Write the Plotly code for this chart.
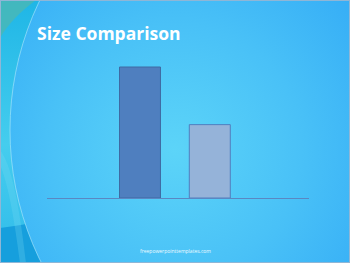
import base64
import plotly.graph_objects as go

categories = ["Item A", "Item B"]
values = [100, 56]
bar_colors = ["#4f7fbf", "#95b3d9"]
border_colors = ["#3f6aa3", "#4f7fbf"]
title_text = "Size Comparison"
footer_text = "freepowerpointtemplates.com"

W, H = 350, 263
ML, MR, MT, MB = 47, 41, 50, 65
PW, PH = W - ML - MR, H - MT - MB

svg = f'''<svg xmlns="http://www.w3.org/2000/svg" width="{W}" height="{H}" viewBox="0 0 {W} {H}">
<defs>
<radialGradient id="g" cx="175" cy="150" r="230" gradientUnits="userSpaceOnUse">
<stop offset="0" stop-color="#5cd4f8"/>
<stop offset="0.55" stop-color="#49c1f7"/>
<stop offset="1" stop-color="#36aef6"/>
</radialGradient>
<linearGradient id="l" x1="0" y1="0" x2="0" y2="1">
<stop offset="0" stop-color="#1fb6e6"/>
<stop offset="0.55" stop-color="#45cdee"/>
<stop offset="1" stop-color="#30bbea"/>
</linearGradient>
</defs>
<rect x="0" y="0" width="{W}" height="{H}" fill="url(#l)"/>
<path d="M0,0 L36,0 C20,12 8,24 0,38 Z" fill="#4bb8b4" opacity="0.8"/>
<path d="M0,228 C15,226 28,224 36,222 L48,263 L0,263 Z" fill="#169fdd"/>
<path d="M0,150 C12,165 20,210 26,263 L20,263 C14,215 7,180 0,165 Z" fill="#7adcf2" opacity="0.25"/>
<circle cx="307" cy="130" r="297" fill="url(#g)"/>
<circle cx="307" cy="130" r="297" fill="none" stroke="#a8e6fa" stroke-width="0.8" opacity="0.8"/>
<rect x="0.5" y="0.5" width="{W-1}" height="{H-1}" fill="none" stroke="#8fb6d6" stroke-width="1"/>
</svg>'''
src = "data:image/svg+xml;base64," + base64.b64encode(svg.encode()).decode()

fig = go.Figure()
fig.add_trace(go.Bar(
    x=categories, y=values, width=0.587,
    marker=dict(color=bar_colors, line=dict(color=border_colors, width=1)),
    hoverinfo="skip",
))

fig.update_layout(
    width=W, height=H,
    margin=dict(l=ML, r=MR, t=MT, b=MB),
    paper_bgcolor="#3cb4f6", plot_bgcolor="rgba(0,0,0,0)",
    showlegend=False,
    xaxis=dict(range=[-1.332, 2.421], showticklabels=False, showgrid=False,
               zeroline=False, showline=True, linecolor="#5a87c2", linewidth=1, ticks=""),
    yaxis=dict(range=[0, 100 * PH / 131], showticklabels=False, showgrid=False,
               zeroline=False, showline=False),
    images=[dict(source=src, xref="paper", yref="paper",
                 x=-ML / PW, y=1 + MT / PH, sizex=W / PW, sizey=H / PH,
                 xanchor="left", yanchor="top", sizing="stretch", layer="below")],
    annotations=[
        dict(text=f"<b>{title_text}</b>", xref="paper", yref="paper",
             x=(35 - ML) / PW, y=1 + (MT - 33) / PH, xanchor="left", yanchor="middle",
             showarrow=False, font=dict(family="Open Sans", size=17.5, color="white")),
        dict(text=footer_text, xref="paper", yref="paper",
             x=(175 - ML) / PW, y=-(251 - MT - PH) / PH, xanchor="center", yanchor="middle",
             showarrow=False, font=dict(family="Open Sans", size=5, color="#eefaff")),
    ],
)

fig.write_html("out.html")
